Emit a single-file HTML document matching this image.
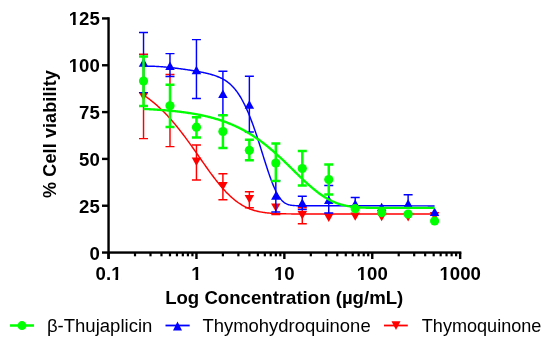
<!DOCTYPE html>
<html><head><meta charset="utf-8"><style>html,body{margin:0;padding:0;background:#fff;overflow:hidden;}svg{display:block;}</style></head>
<body>
<svg width="550" height="343" viewBox="0 0 550 343">
<g font-family="'Liberation Sans', Arial, sans-serif" font-weight="700" font-size="18" fill="#000">
<text transform="translate(99.80,259.55) scale(1.035,1)" text-anchor="end">0</text><text transform="translate(99.80,212.83) scale(1.035,1)" text-anchor="end">25</text><text transform="translate(99.80,166.01) scale(1.035,1)" text-anchor="end">50</text><text transform="translate(99.80,118.79) scale(1.035,1)" text-anchor="end">75</text><text transform="translate(99.80,71.97) scale(1.035,1)" text-anchor="end">100</text><text transform="translate(99.80,24.95) scale(1.035,1)" text-anchor="end">125</text>
<text transform="translate(108.55,280.00) scale(1.035,1)" text-anchor="middle">0.1</text><text transform="translate(196.45,280.00) scale(1.035,1)" text-anchor="middle">1</text><text transform="translate(284.35,280.00) scale(1.035,1)" text-anchor="middle">10</text><text transform="translate(372.25,280.00) scale(1.035,1)" text-anchor="middle">100</text><text transform="translate(460.15,280.00) scale(1.035,1)" text-anchor="middle">1000</text>
<text transform="translate(284.20,303.50) scale(1.035,1)" text-anchor="middle">Log Concentration (µg/mL)</text>
<text transform="translate(55.5,134.05) scale(1.07,1) rotate(-90)" text-anchor="middle" textLength="127.75" lengthAdjust="spacing">% Cell viability</text>
</g>
<g fill="#fff"><rect x="69.08" y="69.78" width="3.93" height="2.74"/><rect x="75.67" y="69.78" width="3.74" height="2.74"/><rect x="69.08" y="22.76" width="3.93" height="2.74"/><rect x="75.67" y="22.76" width="3.74" height="2.74"/><rect x="111.50" y="277.81" width="3.93" height="2.74"/><rect x="118.09" y="277.81" width="3.74" height="2.74"/><rect x="191.63" y="277.81" width="3.93" height="2.74"/><rect x="198.22" y="277.81" width="3.74" height="2.74"/><rect x="274.35" y="277.81" width="3.93" height="2.74"/><rect x="280.94" y="277.81" width="3.74" height="2.74"/><rect x="357.07" y="277.81" width="3.93" height="2.74"/><rect x="363.66" y="277.81" width="3.74" height="2.74"/><rect x="439.79" y="277.81" width="3.93" height="2.74"/><rect x="446.38" y="277.81" width="3.74" height="2.74"/></g>
<g fill="#000"><rect x="107.35" y="17.25" width="2.4" height="241.75"/><rect x="102" y="251.35" width="359.35" height="2.4"/><rect x="102" y="204.53" width="6.55" height="2.4"/><rect x="102" y="157.71" width="6.55" height="2.4"/><rect x="102" y="110.89" width="6.55" height="2.4"/><rect x="102" y="64.07" width="6.55" height="2.4"/><rect x="102" y="17.25" width="6.55" height="2.4"/><rect x="107.35" y="252.55" width="2.4" height="6.45"/><rect x="133.91" y="252.55" width="2.2" height="3.75"/><rect x="149.39" y="252.55" width="2.2" height="3.75"/><rect x="160.37" y="252.55" width="2.2" height="3.75"/><rect x="168.89" y="252.55" width="2.2" height="3.75"/><rect x="175.85" y="252.55" width="2.2" height="3.75"/><rect x="181.73" y="252.55" width="2.2" height="3.75"/><rect x="186.83" y="252.55" width="2.2" height="3.75"/><rect x="191.33" y="252.55" width="2.2" height="3.75"/><rect x="195.25" y="252.55" width="2.4" height="6.45"/><rect x="221.81" y="252.55" width="2.2" height="3.75"/><rect x="237.29" y="252.55" width="2.2" height="3.75"/><rect x="248.27" y="252.55" width="2.2" height="3.75"/><rect x="256.79" y="252.55" width="2.2" height="3.75"/><rect x="263.75" y="252.55" width="2.2" height="3.75"/><rect x="269.63" y="252.55" width="2.2" height="3.75"/><rect x="274.73" y="252.55" width="2.2" height="3.75"/><rect x="279.23" y="252.55" width="2.2" height="3.75"/><rect x="283.15" y="252.55" width="2.4" height="6.45"/><rect x="309.71" y="252.55" width="2.2" height="3.75"/><rect x="325.19" y="252.55" width="2.2" height="3.75"/><rect x="336.17" y="252.55" width="2.2" height="3.75"/><rect x="344.69" y="252.55" width="2.2" height="3.75"/><rect x="351.65" y="252.55" width="2.2" height="3.75"/><rect x="357.53" y="252.55" width="2.2" height="3.75"/><rect x="362.63" y="252.55" width="2.2" height="3.75"/><rect x="367.13" y="252.55" width="2.2" height="3.75"/><rect x="371.05" y="252.55" width="2.4" height="6.45"/><rect x="397.61" y="252.55" width="2.2" height="3.75"/><rect x="413.09" y="252.55" width="2.2" height="3.75"/><rect x="424.07" y="252.55" width="2.2" height="3.75"/><rect x="432.59" y="252.55" width="2.2" height="3.75"/><rect x="439.55" y="252.55" width="2.2" height="3.75"/><rect x="445.43" y="252.55" width="2.2" height="3.75"/><rect x="450.53" y="252.55" width="2.2" height="3.75"/><rect x="455.03" y="252.55" width="2.2" height="3.75"/><rect x="458.95" y="252.55" width="2.4" height="6.45"/></g>
<path d="M143.53,95.01 L144.26,95.51 L144.99,96.01 L145.72,96.52 L146.45,97.03 L147.18,97.56 L147.91,98.09 L148.64,98.64 L149.36,99.19 L150.09,99.75 L150.82,100.31 L151.55,100.89 L152.28,101.47 L153.01,102.07 L153.74,102.67 L154.47,103.28 L155.20,103.90 L155.93,104.53 L156.66,105.17 L157.39,105.82 L158.12,106.48 L158.85,107.15 L159.58,107.82 L160.31,108.51 L161.04,109.20 L161.77,109.90 L162.50,110.62 L163.23,111.34 L163.95,112.07 L164.68,112.81 L165.41,113.56 L166.14,114.32 L166.87,115.09 L167.60,115.87 L168.33,116.66 L169.06,117.45 L169.79,118.26 L170.52,119.07 L171.25,119.90 L171.98,120.73 L172.71,121.57 L173.44,122.43 L174.17,123.29 L174.90,124.15 L175.63,125.03 L176.36,125.92 L177.09,126.81 L177.81,127.71 L178.54,128.62 L179.27,129.54 L180.00,130.47 L180.73,131.40 L181.46,132.34 L182.19,133.29 L182.92,134.25 L183.65,135.21 L184.38,136.18 L185.11,137.16 L185.84,138.14 L186.57,139.13 L187.30,140.12 L188.03,141.12 L188.76,142.13 L189.49,143.14 L190.22,144.16 L190.95,145.18 L191.68,146.20 L192.40,147.23 L193.13,148.26 L193.86,149.29 L194.59,150.33 L195.32,151.37 L196.05,152.41 L196.78,153.45 L197.51,154.50 L198.24,155.54 L198.97,156.59 L199.70,157.64 L200.43,158.68 L201.16,159.73 L201.89,160.77 L202.62,161.82 L203.35,162.86 L204.08,163.90 L204.81,164.93 L205.54,165.97 L206.26,167.00 L206.99,168.02 L207.72,169.04 L208.45,170.06 L209.18,171.07 L209.91,172.08 L210.64,173.08 L211.37,174.07 L212.10,175.05 L212.83,176.03 L213.56,177.00 L214.29,177.96 L215.02,178.91 L215.75,179.86 L216.48,180.79 L217.21,181.71 L217.94,182.63 L218.67,183.53 L219.40,184.42 L220.13,185.30 L220.85,186.17 L221.58,187.02 L222.31,187.86 L223.04,188.69 L223.77,189.51 L224.50,190.31 L225.23,191.10 L225.96,191.88 L226.69,192.64 L227.42,193.38 L228.15,194.11 L228.88,194.83 L229.61,195.53 L230.34,196.22 L231.07,196.89 L231.80,197.55 L232.53,198.19 L233.26,198.81 L233.99,199.42 L234.71,200.02 L235.44,200.59 L236.17,201.16 L236.90,201.70 L237.63,202.23 L238.36,202.75 L239.09,203.25 L239.82,203.73 L240.55,204.20 L241.28,204.66 L242.01,205.10 L242.74,205.52 L243.47,205.93 L244.20,206.33 L244.93,206.71 L245.66,207.08 L246.39,207.43 L247.12,207.77 L247.85,208.09 L248.58,208.41 L249.30,208.71 L250.03,209.00 L250.76,209.27 L251.49,209.54 L252.22,209.79 L252.95,210.03 L253.68,210.26 L254.41,210.48 L255.14,210.68 L255.87,210.88 L256.60,211.07 L257.33,211.25 L258.06,211.42 L258.79,211.58 L259.52,211.74 L260.25,211.88 L260.98,212.02 L261.71,212.15 L262.44,212.27 L263.17,212.38 L263.89,212.49 L264.62,212.59 L265.35,212.69 L266.08,212.78 L266.81,212.86 L267.54,212.94 L268.27,213.02 L269.00,213.09 L269.73,213.15 L270.46,213.21 L271.19,213.27 L271.92,213.32 L272.65,213.37 L273.38,213.42 L274.11,213.46 L274.84,213.50 L275.57,213.54 L276.30,213.57 L277.03,213.61 L277.75,213.63 L278.48,213.66 L279.21,213.69 L279.94,213.71 L280.67,213.73 L281.40,213.75 L282.13,213.77 L282.86,213.79 L283.59,213.80 L284.32,213.82 L285.05,213.83 L285.78,213.84 L286.51,213.85 L287.24,213.86 L287.97,213.87 L288.70,213.88 L289.43,213.89 L290.16,213.89 L290.89,213.90 L291.62,213.91 L292.34,213.91 L293.07,213.92 L293.80,213.92 L294.53,213.92 L295.26,213.93 L295.99,213.93 L296.72,213.93 L297.45,213.94 L298.18,213.94 L298.91,213.94 L299.64,213.94 L300.37,213.94 L301.10,213.95 L301.83,213.95 L302.56,213.95 L303.29,213.95 L304.02,213.95 L304.75,213.95 L305.48,213.95 L306.20,213.95 L306.93,213.95 L307.66,213.95 L308.39,213.95 L309.12,213.96 L309.85,213.96 L310.58,213.96 L311.31,213.96 L312.04,213.96 L312.77,213.96 L313.50,213.96 L314.23,213.96 L314.96,213.96 L315.69,213.96 L316.42,213.96 L317.15,213.96 L317.88,213.96 L318.61,213.96 L319.34,213.96 L320.07,213.96 L320.79,213.96 L321.52,213.96 L322.25,213.96 L322.98,213.96 L323.71,213.96 L324.44,213.96 L325.17,213.96 L325.90,213.96 L326.63,213.96 L327.36,213.96 L328.09,213.96 L328.82,213.96 L329.55,213.96 L330.28,213.96 L331.01,213.96 L331.74,213.96 L332.47,213.96 L333.20,213.96 L333.93,213.96 L334.65,213.96 L335.38,213.96 L336.11,213.96 L336.84,213.96 L337.57,213.96 L338.30,213.96 L339.03,213.96 L339.76,213.96 L340.49,213.96 L341.22,213.96 L341.95,213.96 L342.68,213.96 L343.41,213.96 L344.14,213.96 L344.87,213.96 L345.60,213.96 L346.33,213.96 L347.06,213.96 L347.79,213.96 L348.52,213.96 L349.24,213.96 L349.97,213.96 L350.70,213.96 L351.43,213.96 L352.16,213.96 L352.89,213.96 L353.62,213.96 L354.35,213.96 L355.08,213.96 L355.81,213.96 L356.54,213.96 L357.27,213.96 L358.00,213.96 L358.73,213.96 L359.46,213.96 L360.19,213.96 L360.92,213.96 L361.65,213.96 L362.38,213.96 L363.10,213.96 L363.83,213.96 L364.56,213.96 L365.29,213.96 L366.02,213.96 L366.75,213.96 L367.48,213.96 L368.21,213.96 L368.94,213.96 L369.67,213.96 L370.40,213.96 L371.13,213.96 L371.86,213.96 L372.59,213.96 L373.32,213.96 L374.05,213.96 L374.78,213.96 L375.51,213.96 L376.24,213.96 L376.97,213.96 L377.69,213.96 L378.42,213.96 L379.15,213.96 L379.88,213.96 L380.61,213.96 L381.34,213.96 L382.07,213.96 L382.80,213.96 L383.53,213.96 L384.26,213.96 L384.99,213.96 L385.72,213.96 L386.45,213.96 L387.18,213.96 L387.91,213.96 L388.64,213.96 L389.37,213.96 L390.10,213.96 L390.83,213.96 L391.56,213.96 L392.28,213.96 L393.01,213.96 L393.74,213.96 L394.47,213.96 L395.20,213.96 L395.93,213.96 L396.66,213.96 L397.39,213.96 L398.12,213.96 L398.85,213.96 L399.58,213.96 L400.31,213.96 L401.04,213.96 L401.77,213.96 L402.50,213.96 L403.23,213.96 L403.96,213.96 L404.69,213.96 L405.42,213.96 L406.14,213.96 L406.87,213.96 L407.60,213.96 L408.33,213.96 L409.06,213.96 L409.79,213.96 L410.52,213.96 L411.25,213.96 L411.98,213.96 L412.71,213.96 L413.44,213.96 L414.17,213.96 L414.90,213.96 L415.63,213.96 L416.36,213.96 L417.09,213.96 L417.82,213.96 L418.55,213.96 L419.28,213.96 L420.01,213.96 L420.73,213.96 L421.46,213.96 L422.19,213.96 L422.92,213.96 L423.65,213.96 L424.38,213.96 L425.11,213.96 L425.84,213.96 L426.57,213.96 L427.30,213.96 L428.03,213.96 L428.76,213.96 L429.49,213.96 L430.22,213.96 L430.95,213.96 L431.68,213.96 L432.41,213.96 L433.14,213.96 L433.87,213.96 L434.59,213.96" fill="none" stroke="#ff0000" stroke-width="1.45"/>
<path d="M143.53,54.30V138.60M139.03,54.30H148.03M139.03,138.60H148.03M169.99,74.50V146.60M165.49,74.50H174.49M165.49,146.60H174.49M196.45,145.00V180.00M191.95,145.00H200.95M191.95,180.00H200.95M222.91,173.80V199.70M218.41,173.80H227.41M218.41,199.70H227.41M249.37,191.80V207.80M244.87,191.80H253.87M244.87,207.80H253.87M275.83,207.30V214.50M271.33,214.50H280.33M302.29,207.70V223.80M297.79,207.70H306.79M297.79,223.80H306.79" fill="none" stroke="#ff0000" stroke-width="1.45"/>
<g fill="#ff0000"><path d="M143.53,100.70L138.78,92.30H148.28Z"/><path d="M196.45,166.00L191.70,157.60H201.20Z"/><path d="M222.91,190.50L218.16,182.10H227.66Z"/><path d="M249.37,203.30L244.62,194.90H254.12Z"/><path d="M275.83,211.80L271.08,203.40H280.58Z"/><path d="M302.29,219.50L297.54,211.10H307.04Z"/><path d="M328.75,222.00L324.00,213.60H333.50Z"/><path d="M355.21,220.80L350.46,212.40H359.96Z"/><path d="M381.67,221.30L376.92,212.90H386.42Z"/><path d="M408.13,221.50L403.38,213.10H412.88Z"/><path d="M434.59,220.50L429.84,212.10H439.34Z"/></g>
<path d="M143.53,66.22 L144.26,66.20 L144.99,66.19 L145.72,66.18 L146.45,66.17 L147.18,66.17 L147.91,66.17 L148.64,66.17 L149.36,66.18 L150.09,66.19 L150.82,66.20 L151.55,66.22 L152.28,66.24 L153.01,66.26 L153.74,66.29 L154.47,66.32 L155.20,66.35 L155.93,66.39 L156.66,66.43 L157.39,66.47 L158.12,66.51 L158.85,66.55 L159.58,66.60 L160.31,66.65 L161.04,66.71 L161.77,66.76 L162.50,66.82 L163.23,66.88 L163.95,66.94 L164.68,67.00 L165.41,67.07 L166.14,67.13 L166.87,67.20 L167.60,67.27 L168.33,67.35 L169.06,67.42 L169.79,67.50 L170.52,67.58 L171.25,67.66 L171.98,67.74 L172.71,67.82 L173.44,67.90 L174.17,67.99 L174.90,68.08 L175.63,68.16 L176.36,68.25 L177.09,68.34 L177.81,68.44 L178.54,68.53 L179.27,68.62 L180.00,68.72 L180.73,68.82 L181.46,68.92 L182.19,69.01 L182.92,69.12 L183.65,69.22 L184.38,69.32 L185.11,69.42 L185.84,69.53 L186.57,69.64 L187.30,69.74 L188.03,69.85 L188.76,69.96 L189.49,70.08 L190.22,70.19 L190.95,70.30 L191.68,70.42 L192.40,70.54 L193.13,70.66 L193.86,70.78 L194.59,70.90 L195.32,71.03 L196.05,71.15 L196.78,71.28 L197.51,71.41 L198.24,71.54 L198.97,71.68 L199.70,71.82 L200.43,71.96 L201.16,72.10 L201.89,72.25 L202.62,72.40 L203.35,72.55 L204.08,72.71 L204.81,72.87 L205.54,73.03 L206.26,73.20 L206.99,73.37 L207.72,73.55 L208.45,73.73 L209.18,73.92 L209.91,74.12 L210.64,74.32 L211.37,74.52 L212.10,74.74 L212.83,74.95 L213.56,75.18 L214.29,75.42 L215.02,75.66 L215.75,75.91 L216.48,76.17 L217.21,76.45 L217.94,76.73 L218.67,77.03 L219.40,77.34 L220.13,77.66 L220.85,78.00 L221.58,78.35 L222.31,78.73 L223.04,79.12 L223.77,79.53 L224.50,79.96 L225.23,80.42 L225.96,80.89 L226.69,81.40 L227.42,81.92 L228.15,82.48 L228.88,83.06 L229.61,83.67 L230.34,84.31 L231.07,84.99 L231.80,85.70 L232.53,86.44 L233.26,87.21 L233.99,88.03 L234.71,88.88 L235.44,89.77 L236.17,90.70 L236.90,91.67 L237.63,92.69 L238.36,93.75 L239.09,94.85 L239.82,96.00 L240.55,97.20 L241.28,98.44 L242.01,99.74 L242.74,101.08 L243.47,102.47 L244.20,103.91 L244.93,105.39 L245.66,106.93 L246.39,108.51 L247.12,110.14 L247.85,111.81 L248.58,113.53 L249.30,115.30 L250.03,117.11 L250.76,118.97 L251.49,120.87 L252.22,122.81 L252.95,124.80 L253.68,126.82 L254.41,128.89 L255.14,130.99 L255.87,133.13 L256.60,135.30 L257.33,137.50 L258.06,139.73 L258.79,141.99 L259.52,144.27 L260.25,146.56 L260.98,148.87 L261.71,151.19 L262.44,153.52 L263.17,155.85 L263.89,158.17 L264.62,160.48 L265.35,162.79 L266.08,165.07 L266.81,167.33 L267.54,169.55 L268.27,171.74 L269.00,173.89 L269.73,176.00 L270.46,178.05 L271.19,180.04 L271.92,181.97 L272.65,183.83 L273.38,185.63 L274.11,187.34 L274.84,188.98 L275.57,190.54 L276.30,192.01 L277.03,193.39 L277.75,194.69 L278.48,195.90 L279.21,197.02 L279.94,198.06 L280.67,199.01 L281.40,199.87 L282.13,200.66 L282.86,201.37 L283.59,202.00 L284.32,202.56 L285.05,203.06 L285.78,203.49 L286.51,203.87 L287.24,204.19 L287.97,204.47 L288.70,204.71 L289.43,204.90 L290.16,205.07 L290.89,205.20 L291.62,205.31 L292.34,205.40 L293.07,205.48 L293.80,205.53 L294.53,205.58 L295.26,205.61 L295.99,205.64 L296.72,205.66 L297.45,205.67 L298.18,205.68 L298.91,205.69 L299.64,205.70 L300.37,205.70 L301.10,205.71 L301.83,205.71 L302.56,205.71 L303.29,205.71 L304.02,205.71 L304.75,205.72 L305.48,205.72 L306.20,205.72 L306.93,205.72 L307.66,205.72 L308.39,205.72 L309.12,205.72 L309.85,205.72 L310.58,205.72 L311.31,205.72 L312.04,205.72 L312.77,205.72 L313.50,205.72 L314.23,205.73 L314.96,205.73 L315.69,205.73 L316.42,205.73 L317.15,205.73 L317.88,205.73 L318.61,205.73 L319.34,205.73 L320.07,205.73 L320.79,205.73 L321.52,205.73 L322.25,205.73 L322.98,205.73 L323.71,205.73 L324.44,205.73 L325.17,205.74 L325.90,205.74 L326.63,205.74 L327.36,205.74 L328.09,205.74 L328.82,205.74 L329.55,205.74 L330.28,205.74 L331.01,205.74 L331.74,205.74 L332.47,205.74 L333.20,205.74 L333.93,205.74 L334.65,205.74 L335.38,205.74 L336.11,205.74 L336.84,205.74 L337.57,205.75 L338.30,205.75 L339.03,205.75 L339.76,205.75 L340.49,205.75 L341.22,205.75 L341.95,205.75 L342.68,205.75 L343.41,205.75 L344.14,205.75 L344.87,205.75 L345.60,205.75 L346.33,205.75 L347.06,205.75 L347.79,205.75 L348.52,205.75 L349.24,205.76 L349.97,205.76 L350.70,205.76 L351.43,205.76 L352.16,205.76 L352.89,205.76 L353.62,205.76 L354.35,205.76 L355.08,205.76 L355.81,205.76 L356.54,205.76 L357.27,205.76 L358.00,205.76 L358.73,205.76 L359.46,205.76 L360.19,205.77 L360.92,205.77 L361.65,205.77 L362.38,205.77 L363.10,205.77 L363.83,205.77 L364.56,205.77 L365.29,205.77 L366.02,205.77 L366.75,205.77 L367.48,205.77 L368.21,205.77 L368.94,205.78 L369.67,205.78 L370.40,205.78 L371.13,205.78 L371.86,205.78 L372.59,205.78 L373.32,205.78 L374.05,205.78 L374.78,205.78 L375.51,205.78 L376.24,205.78 L376.97,205.79 L377.69,205.79 L378.42,205.79 L379.15,205.79 L379.88,205.79 L380.61,205.79 L381.34,205.79 L382.07,205.79 L382.80,205.79 L383.53,205.79 L384.26,205.80 L384.99,205.80 L385.72,205.80 L386.45,205.80 L387.18,205.80 L387.91,205.80 L388.64,205.80 L389.37,205.80 L390.10,205.81 L390.83,205.81 L391.56,205.81 L392.28,205.81 L393.01,205.81 L393.74,205.81 L394.47,205.81 L395.20,205.81 L395.93,205.82 L396.66,205.82 L397.39,205.82 L398.12,205.82 L398.85,205.82 L399.58,205.82 L400.31,205.82 L401.04,205.83 L401.77,205.83 L402.50,205.83 L403.23,205.83 L403.96,205.83 L404.69,205.83 L405.42,205.84 L406.14,205.84 L406.87,205.84 L407.60,205.84 L408.33,205.84 L409.06,205.84 L409.79,205.85 L410.52,205.85 L411.25,205.85 L411.98,205.85 L412.71,205.85 L413.44,205.86 L414.17,205.86 L414.90,205.86 L415.63,205.86 L416.36,205.86 L417.09,205.87 L417.82,205.87 L418.55,205.87 L419.28,205.87 L420.01,205.87 L420.73,205.88 L421.46,205.88 L422.19,205.88 L422.92,205.88 L423.65,205.89 L424.38,205.89 L425.11,205.89 L425.84,205.89 L426.57,205.89 L427.30,205.90 L428.03,205.90 L428.76,205.90 L429.49,205.90 L430.22,205.91 L430.95,205.91 L431.68,205.91 L432.41,205.91 L433.14,205.92 L433.87,205.92 L434.59,205.92" fill="none" stroke="#0000ff" stroke-width="1.45"/>
<path d="M143.53,32.40V92.60M139.03,32.40H148.03M139.03,92.60H148.03M169.99,53.60V76.50M165.49,53.60H174.49M165.49,76.50H174.49M196.45,39.60V98.50M191.95,39.60H200.95M191.95,98.50H200.95M222.91,71.20V115.30M218.41,71.20H227.41M218.41,115.30H227.41M249.37,76.20V132.00M244.87,76.20H253.87M244.87,132.00H253.87M275.83,180.60V212.00M271.33,180.60H280.33M271.33,212.00H280.33M302.29,196.30V209.50M297.79,196.30H306.79M297.79,209.50H306.79M328.75,185.50V213.00M324.25,185.50H333.25M324.25,213.00H333.25M355.21,197.50V204.00M350.71,197.50H359.71M408.13,194.70V203.80M403.63,194.70H412.63" fill="none" stroke="#0000ff" stroke-width="1.45"/>
<g fill="#0000ff"><path d="M143.53,58.30L138.78,66.70H148.28Z"/><path d="M169.99,61.50L165.24,69.90H174.74Z"/><path d="M196.45,65.80L191.70,74.20H201.20Z"/><path d="M222.91,89.50L218.16,97.90H227.66Z"/><path d="M249.37,100.30L244.62,108.70H254.12Z"/><path d="M275.83,191.30L271.08,199.70H280.58Z"/><path d="M302.29,198.50L297.54,206.90H307.04Z"/><path d="M328.75,195.50L324.00,203.90H333.50Z"/><path d="M355.21,199.50L350.46,207.90H359.96Z"/><path d="M381.67,202.70L376.92,211.10H386.42Z"/><path d="M408.13,199.30L403.38,207.70H412.88Z"/><path d="M434.59,207.50L429.84,215.90H439.34Z"/></g>
<path d="M143.53,108.93 L144.26,108.96 L144.99,109.00 L145.72,109.03 L146.45,109.07 L147.18,109.11 L147.91,109.14 L148.64,109.18 L149.36,109.22 L150.09,109.26 L150.82,109.30 L151.55,109.34 L152.28,109.39 L153.01,109.43 L153.74,109.47 L154.47,109.52 L155.20,109.56 L155.93,109.61 L156.66,109.66 L157.39,109.71 L158.12,109.76 L158.85,109.81 L159.58,109.86 L160.31,109.91 L161.04,109.96 L161.77,110.02 L162.50,110.07 L163.23,110.13 L163.95,110.19 L164.68,110.25 L165.41,110.31 L166.14,110.37 L166.87,110.43 L167.60,110.49 L168.33,110.56 L169.06,110.62 L169.79,110.69 L170.52,110.76 L171.25,110.83 L171.98,110.90 L172.71,110.97 L173.44,111.05 L174.17,111.12 L174.90,111.20 L175.63,111.28 L176.36,111.36 L177.09,111.44 L177.81,111.52 L178.54,111.60 L179.27,111.69 L180.00,111.78 L180.73,111.87 L181.46,111.96 L182.19,112.05 L182.92,112.14 L183.65,112.24 L184.38,112.34 L185.11,112.44 L185.84,112.54 L186.57,112.64 L187.30,112.75 L188.03,112.86 L188.76,112.97 L189.49,113.08 L190.22,113.19 L190.95,113.31 L191.68,113.43 L192.40,113.55 L193.13,113.67 L193.86,113.79 L194.59,113.92 L195.32,114.05 L196.05,114.18 L196.78,114.32 L197.51,114.45 L198.24,114.59 L198.97,114.73 L199.70,114.88 L200.43,115.02 L201.16,115.17 L201.89,115.33 L202.62,115.48 L203.35,115.64 L204.08,115.80 L204.81,115.96 L205.54,116.13 L206.26,116.30 L206.99,116.47 L207.72,116.65 L208.45,116.83 L209.18,117.01 L209.91,117.19 L210.64,117.38 L211.37,117.58 L212.10,117.77 L212.83,117.97 L213.56,118.17 L214.29,118.38 L215.02,118.59 L215.75,118.80 L216.48,119.02 L217.21,119.24 L217.94,119.46 L218.67,119.69 L219.40,119.92 L220.13,120.16 L220.85,120.40 L221.58,120.64 L222.31,120.89 L223.04,121.14 L223.77,121.40 L224.50,121.66 L225.23,121.93 L225.96,122.20 L226.69,122.47 L227.42,122.75 L228.15,123.03 L228.88,123.32 L229.61,123.62 L230.34,123.91 L231.07,124.22 L231.80,124.52 L232.53,124.84 L233.26,125.15 L233.99,125.48 L234.71,125.80 L235.44,126.13 L236.17,126.47 L236.90,126.82 L237.63,127.16 L238.36,127.52 L239.09,127.88 L239.82,128.24 L240.55,128.61 L241.28,128.99 L242.01,129.37 L242.74,129.75 L243.47,130.15 L244.20,130.54 L244.93,130.95 L245.66,131.36 L246.39,131.77 L247.12,132.19 L247.85,132.62 L248.58,133.05 L249.30,133.49 L250.03,133.94 L250.76,134.39 L251.49,134.84 L252.22,135.31 L252.95,135.78 L253.68,136.25 L254.41,136.73 L255.14,137.22 L255.87,137.71 L256.60,138.21 L257.33,138.72 L258.06,139.23 L258.79,139.75 L259.52,140.27 L260.25,140.81 L260.98,141.34 L261.71,141.88 L262.44,142.43 L263.17,142.99 L263.89,143.55 L264.62,144.12 L265.35,144.69 L266.08,145.27 L266.81,145.85 L267.54,146.44 L268.27,147.04 L269.00,147.64 L269.73,148.25 L270.46,148.86 L271.19,149.48 L271.92,150.10 L272.65,150.73 L273.38,151.36 L274.11,152.00 L274.84,152.65 L275.57,153.30 L276.30,153.95 L277.03,154.61 L277.75,155.27 L278.48,155.94 L279.21,156.61 L279.94,157.28 L280.67,157.96 L281.40,158.65 L282.13,159.33 L282.86,160.02 L283.59,160.72 L284.32,161.41 L285.05,162.11 L285.78,162.82 L286.51,163.52 L287.24,164.23 L287.97,164.93 L288.70,165.65 L289.43,166.36 L290.16,167.07 L290.89,167.78 L291.62,168.50 L292.34,169.22 L293.07,169.93 L293.80,170.65 L294.53,171.36 L295.26,172.08 L295.99,172.79 L296.72,173.51 L297.45,174.22 L298.18,174.93 L298.91,175.64 L299.64,176.34 L300.37,177.05 L301.10,177.75 L301.83,178.44 L302.56,179.14 L303.29,179.83 L304.02,180.52 L304.75,181.20 L305.48,181.88 L306.20,182.55 L306.93,183.22 L307.66,183.88 L308.39,184.53 L309.12,185.18 L309.85,185.83 L310.58,186.46 L311.31,187.09 L312.04,187.71 L312.77,188.33 L313.50,188.94 L314.23,189.53 L314.96,190.12 L315.69,190.71 L316.42,191.28 L317.15,191.84 L317.88,192.40 L318.61,192.94 L319.34,193.48 L320.07,194.00 L320.79,194.52 L321.52,195.02 L322.25,195.52 L322.98,196.00 L323.71,196.48 L324.44,196.94 L325.17,197.39 L325.90,197.83 L326.63,198.26 L327.36,198.68 L328.09,199.09 L328.82,199.48 L329.55,199.87 L330.28,200.24 L331.01,200.60 L331.74,200.96 L332.47,201.30 L333.20,201.63 L333.93,201.94 L334.65,202.25 L335.38,202.55 L336.11,202.83 L336.84,203.11 L337.57,203.37 L338.30,203.63 L339.03,203.87 L339.76,204.10 L340.49,204.33 L341.22,204.54 L341.95,204.75 L342.68,204.94 L343.41,205.13 L344.14,205.31 L344.87,205.48 L345.60,205.64 L346.33,205.79 L347.06,205.93 L347.79,206.07 L348.52,206.20 L349.24,206.32 L349.97,206.44 L350.70,206.54 L351.43,206.65 L352.16,206.74 L352.89,206.83 L353.62,206.92 L354.35,207.00 L355.08,207.07 L355.81,207.14 L356.54,207.20 L357.27,207.26 L358.00,207.32 L358.73,207.37 L359.46,207.42 L360.19,207.46 L360.92,207.50 L361.65,207.54 L362.38,207.57 L363.10,207.61 L363.83,207.63 L364.56,207.66 L365.29,207.69 L366.02,207.71 L366.75,207.73 L367.48,207.75 L368.21,207.76 L368.94,207.78 L369.67,207.79 L370.40,207.81 L371.13,207.82 L371.86,207.83 L372.59,207.84 L373.32,207.84 L374.05,207.85 L374.78,207.86 L375.51,207.86 L376.24,207.87 L376.97,207.87 L377.69,207.88 L378.42,207.88 L379.15,207.88 L379.88,207.89 L380.61,207.89 L381.34,207.89 L382.07,207.89 L382.80,207.90 L383.53,207.90 L384.26,207.90 L384.99,207.90 L385.72,207.90 L386.45,207.90 L387.18,207.90 L387.91,207.90 L388.64,207.90 L389.37,207.90 L390.10,207.90 L390.83,207.90 L391.56,207.91 L392.28,207.91 L393.01,207.91 L393.74,207.91 L394.47,207.91 L395.20,207.91 L395.93,207.91 L396.66,207.91 L397.39,207.91 L398.12,207.91 L398.85,207.91 L399.58,207.91 L400.31,207.91 L401.04,207.91 L401.77,207.91 L402.50,207.91 L403.23,207.91 L403.96,207.91 L404.69,207.91 L405.42,207.91 L406.14,207.91 L406.87,207.91 L407.60,207.91 L408.33,207.91 L409.06,207.91 L409.79,207.91 L410.52,207.91 L411.25,207.91 L411.98,207.91 L412.71,207.91 L413.44,207.91 L414.17,207.91 L414.90,207.91 L415.63,207.91 L416.36,207.91 L417.09,207.91 L417.82,207.91 L418.55,207.91 L419.28,207.91 L420.01,207.91 L420.73,207.91 L421.46,207.91 L422.19,207.91 L422.92,207.91 L423.65,207.91 L424.38,207.91 L425.11,207.91 L425.84,207.91 L426.57,207.91 L427.30,207.91 L428.03,207.91 L428.76,207.91 L429.49,207.91 L430.22,207.91 L430.95,207.91 L431.68,207.91 L432.41,207.91 L433.14,207.91 L433.87,207.91 L434.59,207.91" fill="none" stroke="#00ff00" stroke-width="2.35"/>
<path d="M143.53,56.40V106.00M139.03,56.40H148.03M139.03,106.00H148.03M169.99,84.80V127.00M165.49,84.80H174.49M165.49,127.00H174.49M196.45,117.20V137.50M191.95,117.20H200.95M191.95,137.50H200.95M222.91,115.30V148.00M218.41,115.30H227.41M218.41,148.00H227.41M249.37,139.80V160.30M244.87,139.80H253.87M244.87,160.30H253.87M275.83,143.50V181.00M271.33,143.50H280.33M271.33,181.00H280.33M302.29,151.00V185.50M297.79,151.00H306.79M297.79,185.50H306.79M328.75,164.50V194.50M324.25,164.50H333.25M324.25,194.50H333.25" fill="none" stroke="#00ff00" stroke-width="2.5"/>
<g fill="#00ff00"><circle cx="143.53" cy="81.00" r="4.6"/><circle cx="169.99" cy="105.80" r="4.6"/><circle cx="196.45" cy="127.20" r="4.6"/><circle cx="222.91" cy="131.50" r="4.6"/><circle cx="249.37" cy="150.30" r="4.6"/><circle cx="275.83" cy="163.00" r="4.6"/><circle cx="302.29" cy="168.50" r="4.6"/><circle cx="328.75" cy="179.50" r="4.6"/><circle cx="355.21" cy="208.70" r="4.6"/><circle cx="381.67" cy="212.60" r="4.6"/><circle cx="408.13" cy="214.00" r="4.6"/><circle cx="434.59" cy="221.00" r="4.6"/></g>
<line x1="10" y1="325.5" x2="34" y2="325.5" stroke="#00ff00" stroke-width="2.5"/>
<circle cx="22" cy="325.6" r="4.5" fill="#00ff00"/>
<line x1="165.5" y1="325.5" x2="189.7" y2="325.5" stroke="#0000ff" stroke-width="1.8"/>
<path d="M177.5,321.5L173,330.5H182Z" fill="#0000ff"/>
<line x1="384" y1="325.5" x2="407.8" y2="325.5" stroke="#ff0000" stroke-width="1.8"/>
<path d="M396,330L391.5,321.2H400.5Z" fill="#ff0000"/>
<g font-family="'Liberation Sans', Arial, sans-serif" font-size="18" fill="#000">
<text transform="translate(46.90,331.80) scale(1.03,1)" text-anchor="start">β-Thujaplicin</text>
<text transform="translate(202.50,331.80) scale(1.025,1)" text-anchor="start">Thymohydroquinone</text>
<text transform="translate(421.80,331.80) scale(1.005,1)" text-anchor="start">Thymoquinone</text>
</g>
</svg>
</body></html>
